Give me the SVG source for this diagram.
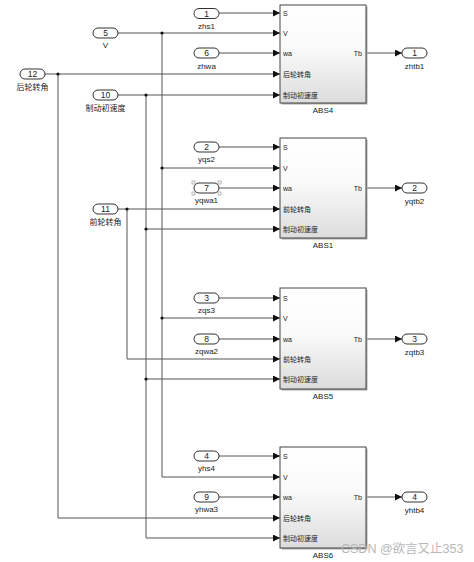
<svg xmlns="http://www.w3.org/2000/svg" width="474" height="562" viewBox="0 0 474 562">
<style>
text{font-family:"Liberation Sans","Noto Sans CJK SC",sans-serif;fill:#222}
.lbl{font-size:8px;text-anchor:middle}
.num{font-size:8.5px;text-anchor:middle}
.pl{font-size:7px}
.pr{font-size:7px;text-anchor:end}
.io{fill:#fff;stroke:#333;stroke-width:1}
.blk{fill:url(#g);stroke:#444;stroke-width:1}
.shd{fill:#aaa}
.w{fill:none;stroke:#555;stroke-width:1}
.dot{fill:#111}
.sel{fill:#fff;stroke:#888;stroke-width:0.6}
</style>
<defs>
<linearGradient id="g" x1="0" y1="0" x2="0" y2="1">
<stop offset="0" stop-color="#fff"/>
<stop offset="0.45" stop-color="#fafafa"/>
<stop offset="1" stop-color="#dcdcdc"/>
</linearGradient>
<marker id="a" viewBox="0 0 10 10" refX="10" refY="5" markerWidth="7" markerHeight="7" markerUnits="userSpaceOnUse" orient="auto">
<path d="M0,0L10,5L0,10z" fill="#111"/>
</marker>
</defs>
<rect width="474" height="562" fill="#fff"/>

<g id="connectors">
<path class="w" marker-end="url(#a)" d="M219,13H280"/>
<path class="w" marker-end="url(#a)" d="M118,33H280"/>
<path class="w" marker-end="url(#a)" d="M219,53H280"/>
<path class="w" marker-end="url(#a)" d="M45,74H280"/>
<path class="w" marker-end="url(#a)" d="M118,95H280"/>
<path class="w" marker-end="url(#a)" d="M366,53H402"/>

<path class="w" marker-end="url(#a)" d="M219,147H280"/>
<path class="w" marker-end="url(#a)" d="M162,168H280"/>
<path class="w" marker-end="url(#a)" d="M219,188H280"/>
<path class="w" marker-end="url(#a)" d="M118,209H280"/>
<path class="w" marker-end="url(#a)" d="M146,229H280"/>
<path class="w" marker-end="url(#a)" d="M366,188H402"/>

<path class="w" marker-end="url(#a)" d="M219,298H280"/>
<path class="w" marker-end="url(#a)" d="M162,318H280"/>
<path class="w" marker-end="url(#a)" d="M219,339H280"/>
<path class="w" marker-end="url(#a)" d="M127,209V359H280"/>
<path class="w" marker-end="url(#a)" d="M146,379H280"/>
<path class="w" marker-end="url(#a)" d="M366,339H402"/>

<path class="w" marker-end="url(#a)" d="M219,456H280"/>
<path class="w" marker-end="url(#a)" d="M162,33V477H280"/>
<path class="w" marker-end="url(#a)" d="M219,497H280"/>
<path class="w" marker-end="url(#a)" d="M58,74V518H280"/>
<path class="w" marker-end="url(#a)" d="M146,95V538H280"/>
<path class="w" marker-end="url(#a)" d="M366,497H402"/>

<circle class="dot" cx="162" cy="33" r="1.6"/>
<circle class="dot" cx="58" cy="74" r="1.6"/>
<circle class="dot" cx="146" cy="95" r="1.6"/>
<circle class="dot" cx="162" cy="168" r="1.6"/>
<circle class="dot" cx="127" cy="209" r="1.6"/>
<circle class="dot" cx="146" cy="229" r="1.6"/>
<circle class="dot" cx="162" cy="318" r="1.6"/>
<circle class="dot" cx="146" cy="379" r="1.6"/>
</g>

<!-- Inports -->
<g id="in1"><rect class="io" x="194" y="8.5" width="25" height="10" rx="5"/><text class="num" x="206.5" y="16.5">1</text><text class="lbl" x="206.5" y="29">zhs1</text></g>
<g id="in5"><rect class="io" x="93" y="28" width="25" height="10" rx="5"/><text class="num" x="105.5" y="36">5</text><text class="lbl" x="105.5" y="48">V</text></g>
<g id="in6"><rect class="io" x="194" y="48" width="25" height="10" rx="5"/><text class="num" x="206.5" y="56">6</text><text class="lbl" x="206.5" y="69">zhwa</text></g>
<g id="in12"><rect class="io" x="20" y="69" width="25" height="10" rx="5"/><text class="num" x="32.5" y="77">12</text><text class="lbl" x="32.5" y="90">后轮转角</text></g>
<g id="in10"><rect class="io" x="93" y="90" width="25" height="10" rx="5"/><text class="num" x="105.5" y="98">10</text><text class="lbl" x="105.5" y="111">制动初速度</text></g>

<g id="in2"><rect class="io" x="194" y="142" width="25" height="10" rx="5"/><text class="num" x="206.5" y="150">2</text><text class="lbl" x="206.5" y="162">yqs2</text></g>
<g id="in7"><rect class="io" x="194" y="183" width="25" height="10" rx="5"/><text class="num" x="206.5" y="191">7</text><text class="lbl" x="206.5" y="203">yqwa1</text>
<rect class="sel" x="192" y="181" width="3" height="3"/><rect class="sel" x="218" y="181" width="3" height="3"/><rect class="sel" x="192" y="192" width="3" height="3"/><rect class="sel" x="218" y="192" width="3" height="3"/></g>
<g id="in11"><rect class="io" x="93" y="204" width="25" height="10" rx="5"/><text class="num" x="105.5" y="212">11</text><text class="lbl" x="105.5" y="225">前轮转角</text></g>

<g id="in3"><rect class="io" x="194" y="293" width="25" height="10" rx="5"/><text class="num" x="206.5" y="301">3</text><text class="lbl" x="206.5" y="313">zqs3</text></g>
<g id="in8"><rect class="io" x="194" y="334" width="25" height="10" rx="5"/><text class="num" x="206.5" y="342">8</text><text class="lbl" x="206.5" y="354">zqwa2</text></g>

<g id="in4"><rect class="io" x="194" y="451" width="25" height="10" rx="5"/><text class="num" x="206.5" y="459">4</text><text class="lbl" x="206.5" y="471">yhs4</text></g>
<g id="in9"><rect class="io" x="194" y="492" width="25" height="10" rx="5"/><text class="num" x="206.5" y="500">9</text><text class="lbl" x="206.5" y="512">yhwa3</text></g>

<!-- Blocks -->
<g id="ABS4"><rect class="shd" x="281.5" y="6.5" width="86" height="98"/><rect class="blk" x="280" y="5" width="86" height="98"/>
<text class="pl" x="283" y="15.5">S</text><text class="pl" x="283" y="35.5">V</text><text class="pl" x="283" y="55.5">wa</text><text class="pl" x="283" y="76.5">后轮转角</text><text class="pl" x="283" y="97.5">制动初速度</text><text class="pr" x="362" y="55.5">Tb</text>
<text class="lbl" x="323" y="113">ABS4</text></g>
<g id="ABS1"><rect class="shd" x="281.5" y="139.5" width="86" height="100"/><rect class="blk" x="280" y="138" width="86" height="100"/>
<text class="pl" x="283" y="149.5">S</text><text class="pl" x="283" y="170.5">V</text><text class="pl" x="283" y="190.5">wa</text><text class="pl" x="283" y="211.5">前轮转角</text><text class="pl" x="283" y="231.5">制动初速度</text><text class="pr" x="362" y="190.5">Tb</text>
<text class="lbl" x="323" y="248">ABS1</text></g>
<g id="ABS5"><rect class="shd" x="281.5" y="289.5" width="86" height="101"/><rect class="blk" x="280" y="288" width="86" height="101"/>
<text class="pl" x="283" y="300.5">S</text><text class="pl" x="283" y="320.5">V</text><text class="pl" x="283" y="341.5">wa</text><text class="pl" x="283" y="361.5">前轮转角</text><text class="pl" x="283" y="381.5">制动初速度</text><text class="pr" x="362" y="341.5">Tb</text>
<text class="lbl" x="323" y="399">ABS5</text></g>
<g id="ABS6"><rect class="shd" x="281.5" y="448.5" width="86" height="101"/><rect class="blk" x="280" y="447" width="86" height="101"/>
<text class="pl" x="283" y="458.5">S</text><text class="pl" x="283" y="479.5">V</text><text class="pl" x="283" y="499.5">wa</text><text class="pl" x="283" y="520.5">后轮转角</text><text class="pl" x="283" y="540.5">制动初速度</text><text class="pr" x="362" y="499.5">Tb</text>
<text class="lbl" x="323" y="558">ABS6</text></g>

<!-- Outports -->
<g id="out1"><rect class="io" x="402" y="48" width="25" height="10" rx="5"/><text class="num" x="414.5" y="56">1</text><text class="lbl" x="414.5" y="69">zhtb1</text></g>
<g id="out2"><rect class="io" x="402" y="183" width="25" height="10" rx="5"/><text class="num" x="414.5" y="191">2</text><text class="lbl" x="414.5" y="204">yqtb2</text></g>
<g id="out3"><rect class="io" x="402" y="334" width="25" height="10" rx="5"/><text class="num" x="414.5" y="342">3</text><text class="lbl" x="414.5" y="355">zqtb3</text></g>
<g id="out4"><rect class="io" x="402" y="492" width="25" height="10" rx="5"/><text class="num" x="414.5" y="500">4</text><text class="lbl" x="414.5" y="513">yhtb4</text></g>

<text x="341" y="553" style="font-size:12.5px;fill:#b8b8b8">CSDN @欲言又止353</text>
</svg>
